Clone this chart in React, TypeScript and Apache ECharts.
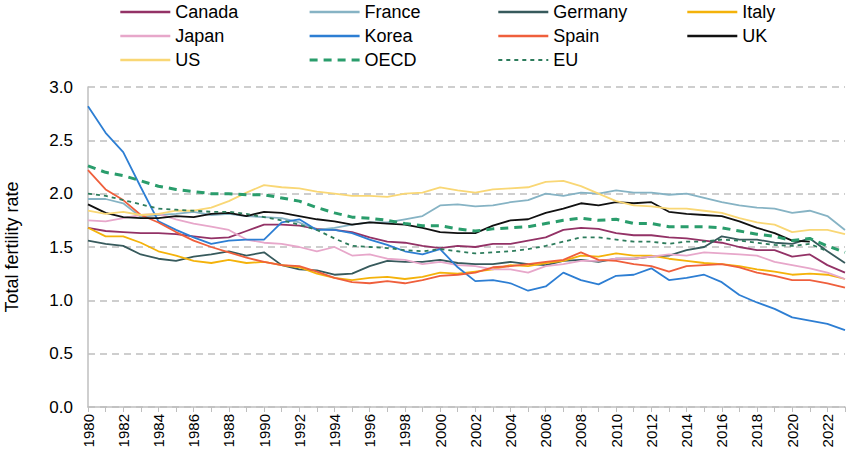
import React, { useEffect, useRef } from "react";
import * as echarts from "echarts";

const years = [
  "1980", "1981", "1982", "1983", "1984", "1985", "1986", "1987", "1988", "1989",
  "1990", "1991", "1992", "1993", "1994", "1995", "1996", "1997", "1998", "1999",
  "2000", "2001", "2002", "2003", "2004", "2005", "2006", "2007", "2008", "2009",
  "2010", "2011", "2012", "2013", "2014", "2015", "2016", "2017", "2018", "2019",
  "2020", "2021", "2022", "2023",
];

const canada = [1.68, 1.65, 1.64, 1.63, 1.63, 1.62, 1.60, 1.58, 1.59, 1.65, 1.71, 1.71, 1.70, 1.67, 1.66, 1.64, 1.59, 1.55, 1.54, 1.51, 1.49, 1.51, 1.50, 1.53, 1.53, 1.56, 1.59, 1.66, 1.68, 1.67, 1.63, 1.61, 1.61, 1.59, 1.58, 1.56, 1.54, 1.50, 1.47, 1.47, 1.41, 1.43, 1.33, 1.26];
const france = [1.95, 1.95, 1.91, 1.78, 1.80, 1.81, 1.83, 1.80, 1.81, 1.79, 1.78, 1.77, 1.73, 1.66, 1.68, 1.71, 1.73, 1.73, 1.76, 1.79, 1.89, 1.90, 1.88, 1.89, 1.92, 1.94, 2.00, 1.98, 2.01, 2.00, 2.03, 2.01, 2.01, 1.99, 2.00, 1.96, 1.92, 1.89, 1.87, 1.86, 1.82, 1.84, 1.79, 1.66];
const germany = [1.56, 1.53, 1.51, 1.43, 1.39, 1.37, 1.41, 1.43, 1.46, 1.42, 1.45, 1.33, 1.29, 1.28, 1.24, 1.25, 1.32, 1.37, 1.36, 1.36, 1.38, 1.35, 1.34, 1.34, 1.36, 1.34, 1.33, 1.37, 1.38, 1.36, 1.39, 1.39, 1.41, 1.42, 1.47, 1.50, 1.60, 1.57, 1.57, 1.54, 1.53, 1.58, 1.46, 1.35];
const italy = [1.68, 1.60, 1.60, 1.54, 1.46, 1.42, 1.37, 1.35, 1.38, 1.35, 1.36, 1.33, 1.31, 1.25, 1.21, 1.19, 1.21, 1.22, 1.20, 1.22, 1.26, 1.25, 1.27, 1.29, 1.33, 1.32, 1.35, 1.37, 1.42, 1.41, 1.44, 1.42, 1.42, 1.39, 1.37, 1.35, 1.34, 1.32, 1.29, 1.27, 1.24, 1.25, 1.24, 1.20];
const japan = [1.75, 1.74, 1.77, 1.80, 1.81, 1.76, 1.72, 1.69, 1.66, 1.57, 1.54, 1.53, 1.50, 1.46, 1.50, 1.42, 1.43, 1.39, 1.38, 1.34, 1.36, 1.33, 1.32, 1.29, 1.29, 1.26, 1.32, 1.34, 1.37, 1.37, 1.39, 1.39, 1.41, 1.43, 1.42, 1.45, 1.44, 1.43, 1.42, 1.36, 1.33, 1.30, 1.26, 1.20];
const korea = [2.82, 2.57, 2.39, 2.06, 1.74, 1.66, 1.59, 1.53, 1.56, 1.57, 1.57, 1.73, 1.76, 1.66, 1.66, 1.63, 1.57, 1.52, 1.46, 1.43, 1.48, 1.31, 1.18, 1.19, 1.16, 1.09, 1.13, 1.26, 1.19, 1.15, 1.23, 1.24, 1.30, 1.19, 1.21, 1.24, 1.17, 1.05, 0.98, 0.92, 0.84, 0.81, 0.78, 0.72];
const spain = [2.22, 2.04, 1.94, 1.80, 1.73, 1.64, 1.56, 1.50, 1.45, 1.40, 1.36, 1.33, 1.32, 1.27, 1.21, 1.17, 1.16, 1.18, 1.16, 1.19, 1.23, 1.24, 1.26, 1.31, 1.32, 1.34, 1.36, 1.38, 1.45, 1.38, 1.37, 1.34, 1.32, 1.27, 1.32, 1.33, 1.34, 1.31, 1.26, 1.23, 1.19, 1.19, 1.16, 1.12];
const uk = [1.90, 1.82, 1.78, 1.77, 1.77, 1.79, 1.78, 1.81, 1.82, 1.79, 1.83, 1.82, 1.79, 1.76, 1.74, 1.71, 1.73, 1.72, 1.71, 1.68, 1.64, 1.63, 1.63, 1.70, 1.75, 1.76, 1.82, 1.86, 1.91, 1.89, 1.92, 1.91, 1.92, 1.83, 1.81, 1.80, 1.79, 1.74, 1.68, 1.63, 1.56, 1.55, null, null];
const us = [1.84, 1.81, 1.83, 1.80, 1.81, 1.84, 1.84, 1.87, 1.93, 2.01, 2.08, 2.06, 2.05, 2.02, 2.00, 1.98, 1.98, 1.97, 2.00, 2.01, 2.06, 2.03, 2.01, 2.04, 2.05, 2.06, 2.11, 2.12, 2.07, 2.00, 1.93, 1.89, 1.88, 1.86, 1.86, 1.84, 1.82, 1.77, 1.73, 1.71, 1.64, 1.66, 1.66, 1.62];
const oecd = [2.26, 2.20, 2.17, 2.12, 2.07, 2.04, 2.02, 2.00, 2.00, 1.99, 1.99, 1.96, 1.93, 1.87, 1.82, 1.78, 1.77, 1.75, 1.72, 1.70, 1.70, 1.67, 1.65, 1.67, 1.68, 1.69, 1.72, 1.75, 1.77, 1.75, 1.76, 1.72, 1.72, 1.69, 1.69, 1.69, 1.68, 1.65, 1.62, 1.60, 1.56, 1.58, 1.51, 1.45];
const eu = [2.00, 1.98, 1.94, 1.90, 1.86, 1.85, 1.84, 1.83, 1.83, 1.81, 1.78, 1.75, 1.71, 1.66, 1.58, 1.51, 1.50, 1.49, 1.47, 1.46, 1.48, 1.46, 1.44, 1.45, 1.46, 1.48, 1.51, 1.55, 1.59, 1.59, 1.57, 1.55, 1.55, 1.53, 1.55, 1.55, 1.57, 1.56, 1.54, 1.52, 1.51, 1.53, 1.46, null];

const yTicks = ["0.0", "0.5", "1.0", "1.5", "2.0", "2.5", "3.0"];

const FONT = "'Liberation Sans', Arial, sans-serif";

type Line = {
  name: string;
  data: (number | null)[];
  color: string;
  width: number;
  legendWidth: number;
  dash?: "solid" | "dashed" | number[];
};

const lines: Line[] = [
  { name: "Canada", data: canada, color: "#933266", width: 1.8, legendWidth: 2.6 },
  { name: "France", data: france, color: "#86B3C4", width: 1.8, legendWidth: 2.6 },
  { name: "Germany", data: germany, color: "#375A5C", width: 1.8, legendWidth: 2.6 },
  { name: "Italy", data: italy, color: "#F4B20A", width: 1.8, legendWidth: 2.6 },
  { name: "Japan", data: japan, color: "#E7A7CA", width: 1.8, legendWidth: 2.6 },
  { name: "Korea", data: korea, color: "#2D7ED3", width: 1.8, legendWidth: 2.6 },
  { name: "Spain", data: spain, color: "#EF5F3C", width: 1.8, legendWidth: 2.6 },
  { name: "UK", data: uk, color: "#111111", width: 1.8, legendWidth: 2.6 },
  { name: "US", data: us, color: "#F9D775", width: 1.8, legendWidth: 2.6 },
  { name: "OECD", data: oecd, color: "#2A9D6C", width: 3, legendWidth: 3.2, dash: [8, 6] },
  { name: "EU", data: eu, color: "#2D7C5C", width: 1.8, legendWidth: 2, dash: [4, 4] },
];

// Legend laid out as four columns of three rows
const legendColumns = [
  { left: 119, names: ["Canada", "Japan", "US"] },
  { left: 308, names: ["France", "Korea", "OECD"] },
  { left: 497, names: ["Germany", "Spain", "EU"] },
  { left: 686, names: ["Italy", "UK"] },
];

export default function App() {
  const ref = useRef<HTMLDivElement>(null);

  useEffect(() => {
    if (!ref.current) return;
    document.body.style.margin = "0";
    const chart = echarts.init(ref.current, undefined, { renderer: "svg" });

    const byName = new Map(lines.map((l) => [l.name, l]));

    chart.setOption({
      animation: false,
      backgroundColor: "#ffffff",
      textStyle: { fontFamily: FONT },
      legend: legendColumns.map((col) => ({
        left: col.left,
        top: 3,
        padding: 0,
        orient: "vertical",
        itemWidth: 50,
        itemHeight: 14,
        itemGap: 6,
        data: col.names.map((n) => ({
          name: n,
          lineStyle: { width: byName.get(n)!.legendWidth },
        })),
        itemStyle: { opacity: 0 },
        textStyle: { fontFamily: FONT, fontSize: 18, color: "#000" },
        selectedMode: false,
      })),
      grid: {
        left: 88,
        right: 3,
        top: 87,
        bottom: 57,
        containLabel: false,
        outerBoundsMode: "none",
      },
      xAxis: {
        type: "category",
        data: years,
        boundaryGap: false,
        axisLine: { lineStyle: { color: "#BFBFBF", width: 1.5 } },
        axisTick: { show: true, interval: 0, length: 5, lineStyle: { color: "#BFBFBF" } },
        axisLabel: {
          interval: 1,
          rotate: 90,
          margin: 7,
          fontFamily: FONT,
          fontSize: 15,
          color: "#000",
        },
        splitLine: { show: false },
      },
      yAxis: {
        type: "value",
        min: 0,
        max: 3,
        interval: 0.5,
        name: "Total fertility rate",
        nameLocation: "middle",
        nameGap: 67,
        nameTextStyle: { fontFamily: FONT, fontSize: 18, color: "#000" },
        axisLine: { show: true, lineStyle: { color: "#BFBFBF", width: 1.5 } },
        axisTick: { show: false },
        axisLabel: {
          margin: 15,
          fontFamily: FONT,
          fontSize: 17,
          color: "#000",
          formatter: (v: number) => yTicks[Math.round(v / 0.5)] ?? v.toFixed(1),
        },
        splitLine: {
          show: true,
          lineStyle: { color: "#BFBFBF", width: 1.5, type: [7, 5] },
        },
      },
      series: lines.map((l) => ({
        name: l.name,
        type: "line",
        data: l.data,
        symbol: "none",
        showSymbol: false,
        connectNulls: false,
        color: l.color,
        lineStyle: { color: l.color, width: l.width, type: l.dash ?? "solid" },
        emphasis: { disabled: true },
      })),
    });

    return () => chart.dispose();
  }, []);

  return <div ref={ref} style={{ width: 848, height: 464 }} />;
}
